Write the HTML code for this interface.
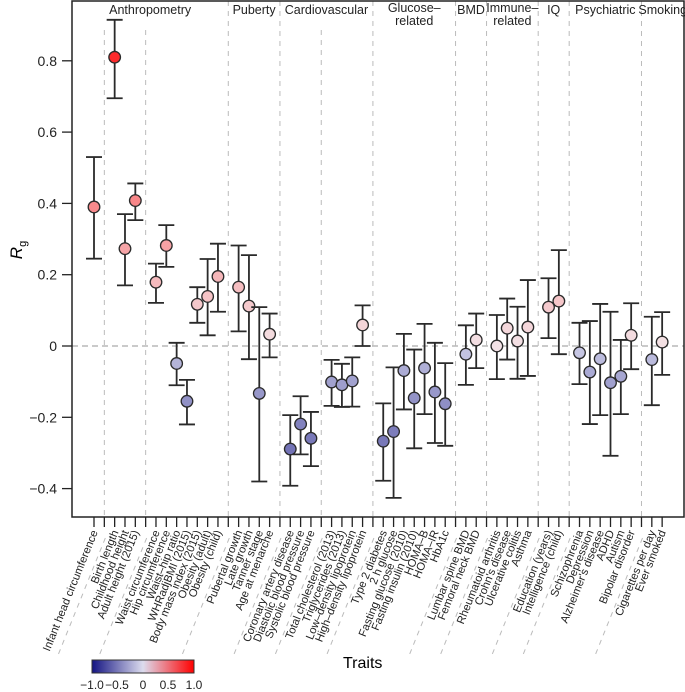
<!DOCTYPE html>
<html><head><meta charset="utf-8"><style>
html,body{margin:0;padding:0;background:#fff;}
svg{display:block;font-family:"Liberation Sans",sans-serif;}
</style></head><body>
<svg id="chart" width="685" height="692" viewBox="0 0 685 692">
<defs>
<linearGradient id="cbar" x1="0" x2="1" y1="0" y2="0">
<stop offset="0" stop-color="#141482"/><stop offset="0.5" stop-color="#dcdcee"/><stop offset="1" stop-color="#ff0000"/>
</linearGradient>
</defs>
<g id="grid"></g>
<g id="marks"></g>
<g id="axes"></g>
<text x="22" y="250" font-size="17" font-style="italic" transform="rotate(-90 22 250)" text-anchor="middle">R<tspan font-size="11" font-style="normal" dy="4">g</tspan></text>
<text x="343" y="668" font-size="16">Traits</text>
<g>
<rect x="92" y="660" width="102" height="13" fill="url(#cbar)" stroke="#333" stroke-width="1"/>
<g font-size="12" text-anchor="middle" fill="#222">
<text x="92" y="689">−1.0</text>
<text x="117" y="689">−0.5</text>
<text x="143" y="689">0</text>
<text x="168" y="689">0.5</text>
<text x="194" y="689">1.0</text>
</g>
</g>
</svg>
<script>
const traits=["Infant head circumference","Birth length","Childhood height","Adult height (2015)","Waist circumference","Hip circumference","Waist–hip ratio","WHRadjBMI (2015)","Body mass index (2015)","Obesity (adult)","Obesity (child)","Pubertal growth","Late growth","Tanner stage","Age at menarche","Coronary artery disease","Diastolic blood pressure","Systolic blood pressure","Total cholesterol (2013)","Triglycerides (2013)","Low–density lipoprotein","High–density lipoprotein","Type 2 diabetes","2 h glucose","Fasting glucose (2010)","Fasting insulin (2010)","HOMA–B","HOMA–IR","HbA1c","Lumbar spine BMD","Femoral neck BMD","Rheumatoid arthritis","Crohn's disease","Ulcerative colitis","Asthma","Education (years)","Intelligence (child)","Schizophrenia","Depression","Alzheimer's disease","ADHD","Autism","Bipolar disorder","Cigarettes per day","Ever smoked"];
const rg=[0.39,0.81,0.273,0.408,0.179,0.282,-0.049,-0.155,0.117,0.139,0.195,0.165,0.112,-0.133,0.033,-0.289,-0.219,-0.259,-0.101,-0.109,-0.098,0.059,-0.267,-0.24,-0.069,-0.146,-0.062,-0.129,-0.162,-0.023,0.017,0.0,0.05,0.014,0.053,0.109,0.126,-0.019,-0.073,-0.036,-0.103,-0.085,0.03,-0.038,0.011];
const upper=[0.53,0.915,0.37,0.456,0.231,0.339,0.009,-0.095,0.165,0.244,0.287,0.282,0.255,0.109,0.091,-0.194,-0.141,-0.185,-0.039,-0.05,-0.032,0.114,-0.161,-0.06,0.034,-0.01,0.062,0.009,-0.048,0.058,0.091,0.087,0.133,0.11,0.185,0.19,0.269,0.065,0.07,0.118,0.096,0.017,0.12,0.082,0.095];
const lower=[0.245,0.695,0.17,0.353,0.121,0.222,-0.11,-0.22,0.065,0.03,0.096,0.041,-0.037,-0.38,-0.032,-0.392,-0.304,-0.337,-0.168,-0.171,-0.17,0.0,-0.378,-0.426,-0.178,-0.287,-0.191,-0.272,-0.28,-0.109,-0.062,-0.093,-0.038,-0.092,-0.084,0.022,-0.023,-0.107,-0.219,-0.194,-0.308,-0.191,-0.065,-0.166,-0.081];
// group sizes (number of traits between divider slots)
const groupSizes=[1,3,7,4,3,4,7,2,4,2,6,2];
const yTicks=[0.8,0.6,0.4,0.2,0,-0.2,-0.4];
const yTickLabels=["0.8","0.6","0.4","0.2","0","−0.2","−0.4"];
const groupLabels=[["Anthropometry"],["Puberty"],["Cardiovascular"],["Glucose–","related"],["BMD"],["Immune–","related"],["IQ"],["Psychiatric"],["Smoking"]];

const NS="http://www.w3.org/2000/svg";
const L=72,R=684,T=1,B=517;
const x0=94,slotW=10.33;
const y=v=>346-v*356.5;
const sx=i=>x0+i*slotW;
function mk(tag,attrs,parent){const e=document.createElementNS(NS,tag);for(const k in attrs)e.setAttribute(k,attrs[k]);parent.appendChild(e);return e;}
function color(v){
  let a,b,t;
  if(v>=0){a=[243,226,230];b=[255,0,0];t=Math.min(1,v);}else{a=[226,226,242];b=[20,20,130];t=Math.sqrt(Math.min(1,-v));}
  const c=a.map((ai,k)=>Math.round(ai+(b[k]-ai)*t));
  return `rgb(${c[0]},${c[1]},${c[2]})`;
}
const traitSlot=[],dividerSlots=[];
let s=0;
groupSizes.forEach((g,gi)=>{for(let k=0;k<g;k++)traitSlot.push(s++);if(gi<groupSizes.length-1)dividerSlots.push(s++);});
const nSlots=s;
const grid=document.getElementById('grid'),marks=document.getElementById('marks'),axes=document.getElementById('axes');
const zl=mk('line',{x1:L,x2:R,y1:y(0),y2:y(0),stroke:'#aaa','stroke-width':1.3,'stroke-dasharray':'6,4'},grid);


const internal=[0,1,4];
dividerSlots.forEach((ds,i)=>{
  const ln=mk('line',{x1:sx(ds),x2:sx(ds),y1:internal.includes(i)?30:T,y2:B,stroke:'#bbb','stroke-width':1,'stroke-dasharray':'5,5'},grid);
  
  
});
const majorDiv=dividerSlots.filter((d,i)=>!internal.includes(i));
const bounds=[L].concat(majorDiv.map(sx)).concat([R]);
groupLabels.forEach((lab,i)=>{
  const cx=(bounds[i]+bounds[i+1])/2;
  const t=mk('text',{x:cx,y:lab.length>1?12:14,'font-size':12.5,'text-anchor':'middle',fill:'#222'},axes);
  
  
  lab.forEach((ln,k)=>{const ts=mk('tspan',{x:cx,dy:k?13:0},t);ts.textContent=ln;});
});
const fr=mk('rect',{x:L,y:T,width:R-L,height:B-T,fill:'none',stroke:'#222','stroke-width':1.5},axes);


yTicks.forEach((v,i)=>{
  const tk=mk('line',{x1:62,x2:L,y1:y(v),y2:y(v),stroke:'#222','stroke-width':1.3},axes);
  
  
  const tl=mk('text',{x:57,y:y(v)+5,'font-size':14,'text-anchor':'end',fill:'#222'},axes);
  
  
  tl.textContent=yTickLabels[i];
});
for(let k=0;k<nSlots;k++){
  const tk=mk('line',{x1:sx(k),x2:sx(k),y1:B,y2:B+10,stroke:'#222','stroke-width':1.3},axes);
  
  
}
dividerSlots.forEach(ds=>{
  const a=68*Math.PI/180,len=125;
  const x1=sx(ds)+1,y1=538;
  const ld=mk('line',{x1:x1,y1:y1,x2:x1-len*Math.cos(a),y2:y1+len*Math.sin(a),stroke:'#bbb','stroke-width':1,'stroke-dasharray':'5,5'},axes);
  
  
});
traits.forEach((t,i)=>{
  const xx=sx(traitSlot[i])+4,yy=532;
  const tl=mk('text',{x:xx,y:yy,'font-size':11.2,'text-anchor':'end',fill:'#222',transform:`rotate(-68 ${xx} ${yy})`},axes);
  
  
  tl.textContent=t;
});
traits.forEach((t,i)=>{
  const cx=sx(traitSlot[i]);
  const g=mk('g',{},marks);
  
  
  const st={stroke:'#2a2a2a','stroke-width':1.8};
  const e=mk('line',Object.assign({x1:cx,x2:cx,y1:y(upper[i]),y2:y(lower[i])},st),g);
  
  
  [upper[i],lower[i]].forEach(v=>{
    const c=mk('line',Object.assign({x1:cx-8,x2:cx+8,y1:y(v),y2:y(v)},st),g);
    
    
  });
  const d=mk('circle',{cx:cx,cy:y(rg[i]),r:5.8,fill:color(rg[i]),stroke:'#2a2a2a','stroke-width':1.3},g);
  
  
});
</script>
</body></html>
